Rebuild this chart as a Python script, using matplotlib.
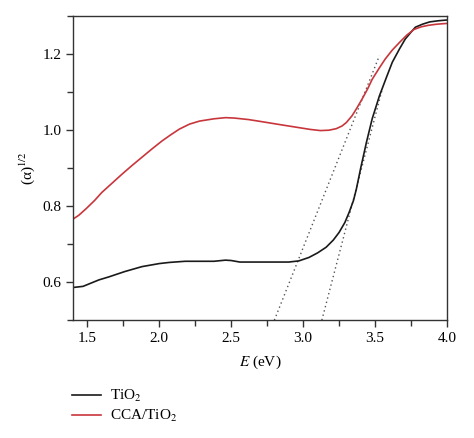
import numpy as np
from matplotlib import pyplot as plt
from matplotlib.ticker import MultipleLocator

plt.rcParams['font.family'] = ['Liberation Serif', 'DejaVu Serif']
plt.rcParams['mathtext.fontset'] = 'stix'

# TiO2 (black)
e_tio2 = [1.40, 1.47, 1.58, 1.65, 1.76, 1.88, 2.00, 2.07, 2.18, 2.28, 2.38, 2.46, 2.50,
          2.56, 2.69, 2.80, 2.90, 2.97, 3.04, 3.10, 3.16, 3.21, 3.25, 3.29, 3.32, 3.35, 3.37,
          3.40, 3.44, 3.48, 3.53, 3.58, 3.62, 3.67, 3.71, 3.75, 3.78, 3.83, 3.88, 3.94, 4.00]
v_tio2 = [0.586, 0.589, 0.606, 0.614, 0.628, 0.641, 0.649, 0.652, 0.655, 0.655, 0.655, 0.658, 0.657,
          0.653, 0.653, 0.653, 0.653, 0.656, 0.665, 0.677, 0.692, 0.711, 0.731, 0.757, 0.784, 0.815, 0.845,
          0.900, 0.968, 1.030, 1.090, 1.140, 1.179, 1.214, 1.240, 1.258, 1.271, 1.279, 1.285, 1.288, 1.290]

# CCA/TiO2 (red)
e_cca = [1.40, 1.44, 1.49, 1.55, 1.60, 1.67, 1.74, 1.81, 1.88, 1.95, 2.02, 2.08, 2.14, 2.21, 2.28, 2.38,
         2.46, 2.52, 2.62, 2.72, 2.85, 2.95, 3.05, 3.12, 3.18, 3.23, 3.27, 3.30, 3.34, 3.37, 3.41,
         3.45, 3.48, 3.53, 3.57, 3.62, 3.67, 3.72, 3.77, 3.82, 3.87, 3.93, 4.00]
v_cca = [0.766, 0.776, 0.793, 0.815, 0.836, 0.860, 0.884, 0.907, 0.929, 0.951, 0.972, 0.988, 1.003, 1.016, 1.024, 1.030,
         1.033, 1.032, 1.028, 1.022, 1.014, 1.008, 1.002, 0.999, 1.000, 1.004, 1.011, 1.020, 1.038, 1.056, 1.082,
         1.110, 1.134, 1.164, 1.187, 1.211, 1.231, 1.250, 1.265, 1.272, 1.276, 1.279, 1.281]

# Tauc extrapolation lines (start, end)
fit1_e = [2.80, 3.53]
fit1_v = [0.50, 1.196]
fit2_e = [3.13, 3.55]
fit2_v = [0.50, 1.108]

fig = plt.figure(figsize=(4.74, 4.38), dpi=100)
ax = fig.add_axes([0.154, 0.269, 0.789, 0.694])

ax.plot(fit1_e, fit1_v, ls=(0, (1, 2.2)), color='#555555', lw=1.0)
ax.plot(fit2_e, fit2_v, ls=(0, (1, 2.2)), color='#555555', lw=1.0)
l1, = ax.plot(e_tio2, v_tio2, color='#1a1a1a', lw=1.2, label='TiO$_2$')
l2, = ax.plot(e_cca, v_cca, color='#c8363c', lw=1.2, label='CCA/TiO$_2$')

ax.set_xlim(1.4, 4.0)
ax.set_ylim(0.5, 1.3)
ax.xaxis.set_major_locator(MultipleLocator(0.5))
ax.xaxis.set_minor_locator(MultipleLocator(0.25))
ax.yaxis.set_major_locator(MultipleLocator(0.2))
ax.yaxis.set_minor_locator(MultipleLocator(0.1))
ax.tick_params(which='both', direction='out', top=False, right=False,
               labelsize=11, color='#333333', width=1.0)
ax.tick_params(which='major', length=5)
ax.tick_params(which='minor', length=4)
for s in ax.spines.values():
    s.set_color('#333333')
    s.set_linewidth(1.0)

ax.set_xlabel('$E$ (eV)', fontsize=11, labelpad=6)
ax.set_ylabel('(α)$^{1/2}$', fontsize=11, labelpad=4)

fig.legend(handles=[l1, l2], loc='upper left', bbox_to_anchor=(0.138, 0.128),
           frameon=False, fontsize=11, handlelength=1.9, handletextpad=0.6,
           labelspacing=0.25, borderaxespad=0)

fig.savefig('out.png', dpi=100)
